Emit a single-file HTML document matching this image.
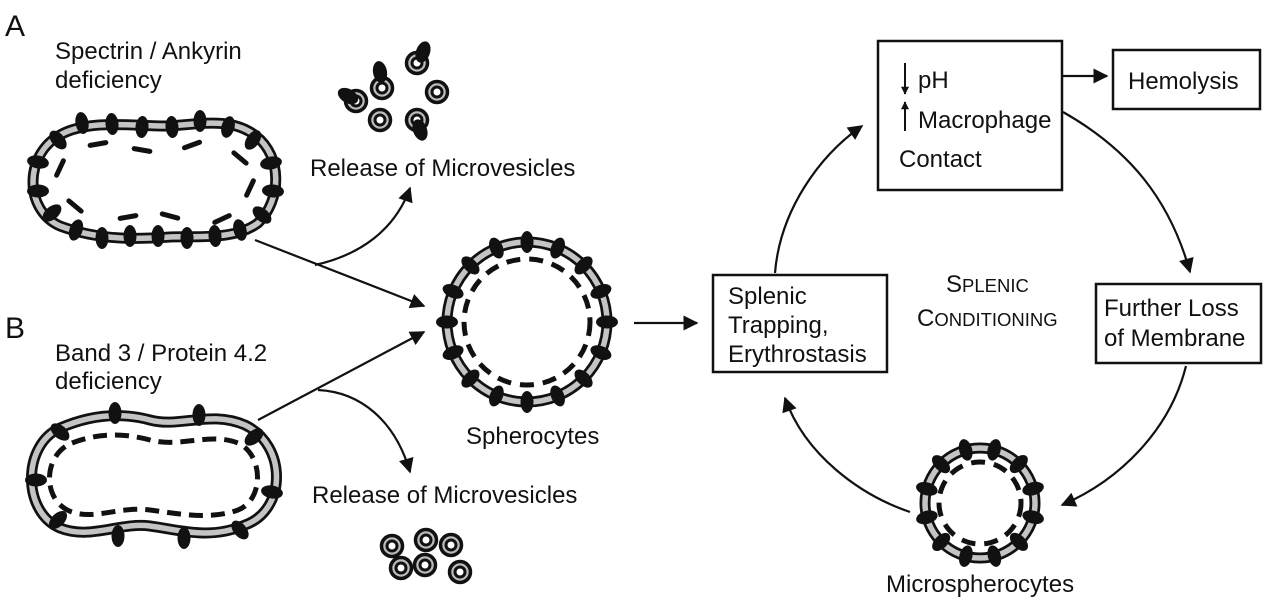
<!DOCTYPE html>
<html><head><meta charset="utf-8"><style>
html,body{margin:0;padding:0;background:#fff;}
svg{display:block}
text{font-family:"Liberation Sans",Arial,sans-serif;fill:#111}
</style></head><body>
<svg id="s" width="1280" height="606" viewBox="0 0 1280 606" xmlns="http://www.w3.org/2000/svg">
<defs>
<marker id="ah" viewBox="0 0 10 10" refX="9" refY="5" markerWidth="9" markerHeight="8" markerUnits="userSpaceOnUse" orient="auto"><path d="M0,0 L10,5 L0,10 Z" fill="#111"/></marker>
<marker id="ab" viewBox="0 0 10 10" refX="9" refY="5" markerWidth="20" markerHeight="15" orient="auto" markerUnits="userSpaceOnUse"><path d="M0,0 L10,5 L0,10 Z" fill="#111"/></marker>
</defs>
<g id="g"></g>
<text x="5" y="36" font-size="30">A</text>
<text x="5" y="338" font-size="30">B</text>
<text x="55" y="59" font-size="24">Spectrin / Ankyrin</text>
<text x="55" y="88" font-size="24">deficiency</text>
<text x="310" y="176" font-size="24">Release of Microvesicles</text>
<text x="55" y="361" font-size="24">Band 3 / Protein 4.2</text>
<text x="55" y="389" font-size="24">deficiency</text>
<text x="312" y="503" font-size="24">Release of Microvesicles</text>
<text x="466" y="444" font-size="24">Spherocytes</text>
<text x="886" y="592" font-size="24">Microspherocytes</text>
<rect x="713" y="275" width="174" height="97" fill="none" stroke="#111" stroke-width="2.5"/>
<text x="728" y="304" font-size="24">Splenic</text>
<text x="728" y="333" font-size="24">Trapping,</text>
<text x="728" y="362" font-size="24">Erythrostasis</text>
<rect x="878" y="41" width="184" height="149" fill="none" stroke="#111" stroke-width="2.5"/>
<text x="918" y="88" font-size="24">pH</text>
<text x="918" y="128" font-size="24">Macrophage</text>
<text x="899" y="167" font-size="24">Contact</text>
<line x1="905" y1="63" x2="905" y2="94" stroke="#111" stroke-width="2" marker-end="url(#ah)"/>
<line x1="905" y1="131" x2="905" y2="102" stroke="#111" stroke-width="2" marker-end="url(#ah)"/>
<rect x="1113" y="50" width="147" height="59" fill="none" stroke="#111" stroke-width="2.5"/>
<text x="1128" y="89" font-size="24">Hemolysis</text>
<rect x="1096" y="284" width="165" height="79" fill="none" stroke="#111" stroke-width="2.5"/>
<text x="1104" y="316" font-size="24">Further Loss</text>
<text x="1104" y="346" font-size="24">of Membrane</text>
<text x="946" y="292" font-size="24">S<tspan font-size="18.5">PLENIC</tspan></text>
<text x="917" y="326" font-size="24">C<tspan font-size="18.5">ONDITIONING</tspan></text>
<g fill="none" stroke="#111" stroke-width="2.2" marker-end="url(#ab)">
<line x1="1062" y1="76" x2="1107" y2="76"/>
<line x1="634" y1="323" x2="697" y2="323"/>
<line x1="255" y1="240" x2="424" y2="306"/>
<line x1="258" y1="420" x2="424" y2="332"/>
<path d="M315,265 C360,255 395,230 410,188"/>
<path d="M318,390 C360,392 395,420 410,472"/>
<path d="M775,273 C780,210 820,155 862,126"/>
<path d="M1063,112 C1130,150 1170,200 1190,272"/>
<path d="M1186,366 C1170,430 1120,480 1062,505"/>
<path d="M910,512 C860,495 805,455 785,398"/>
</g>
</svg>
<script>
const NS="http://www.w3.org/2000/svg",g=document.getElementById('g');
function el(t,a){const e=document.createElementNS(NS,t);for(const k in a)e.setAttribute(k,a[k]);g.appendChild(e);return e;}
function memb(d){el('path',{d,fill:'none',stroke:'#111','stroke-width':11});el('path',{d,fill:'none',stroke:'#c4c4c4','stroke-width':5.5});}
function prot(x,y,ang,rx,ry){el('ellipse',{cx:x,cy:y,rx:rx||6.5,ry:ry||11,fill:'#111',transform:`rotate(${ang} ${x} ${y})`});}
function dash(x,y,ang){el('line',{x1:x-8,y1:y,x2:x+8,y2:y,stroke:'#111','stroke-width':5,'stroke-linecap':'round',transform:`rotate(${ang} ${x} ${y})`});}
memb("M60,135 C90,118 140,127 170,126 C200,124 232,117 256,136 C282,156 282,200 258,223 C235,240 200,236 170,237 C140,239 100,241 60,226 C24,210 24,155 60,135 Z");
[[82,123,-10],[112,124,-5],[142,127,5],[172,127,-5],[200,121,0],[228,127,15],[253,140,35],[271,163,80],[273,191,95],[262,215,130],[240,230,165],[215,236,175],[187,238,180],[158,236,180],[130,236,180],[102,238,180],[76,230,200],[52,213,230],[38,191,270],[38,162,280],[58,140,320]].forEach(p=>prot(...p));
[[98,144,-10],[142,150,10],[192,145,-20],[240,158,40],[250,188,-65],[222,219,-25],[170,216,15],[128,217,-10],[75,206,40],[60,168,-65]].forEach(p=>dash(...p));
memb("M60,428 C90,415 120,412 150,420 C180,428 210,410 245,425 C287,445 287,510 245,525 C210,540 180,530 150,526 C120,522 90,540 60,528 C22,512 22,445 60,428 Z");
el('path',{d:"M72,443 C95,434 120,432 150,440 C180,448 210,432 238,443 C264,455 264,500 238,510 C210,520 180,514 150,510 C120,506 95,520 72,512 C42,502 42,455 72,443 Z",fill:'none',stroke:'#111','stroke-width':5,'stroke-dasharray':'14 8'});
[[115,413,0],[199,415,0],[254,437,50],[272,492,100],[240,530,140],[184,538,180],[118,536,180],[58,520,225],[36,480,270],[60,432,310]].forEach(p=>prot(...p));
function round(cx,cy,r,rd,n,off){memb(`M${cx-r},${cy} a${r},${r} 0 1,0 ${2*r},0 a${r},${r} 0 1,0 ${-2*r},0`);
el('circle',{cx,cy,r:rd,fill:'none',stroke:'#111','stroke-width':5,'stroke-dasharray':'14 9'});
for(let i=0;i<n;i++){const a=(i/n)*2*Math.PI+off;prot(cx+r*Math.sin(a),cy-r*Math.cos(a),a*180/Math.PI);}}
round(527,322,80,63,16,0);
round(980,503,55,41,12,0.26);
function ves(x,y){el('circle',{cx:x,cy:y,r:10.5,fill:'#bbb',stroke:'#111','stroke-width':3.5});el('circle',{cx:x,cy:y,r:5,fill:'#fff',stroke:'#111','stroke-width':3});}
[[392,546],[426,540],[451,545],[401,568],[425,565],[460,572],[417,63],[437,92],[382,88],[356,101],[380,120],[417,120]].forEach(p=>ves(...p));
[[423,52,20],[380,72,-10],[348,96,-60],[420,130,-20]].forEach(p=>prot(p[0],p[1],p[2],7,11));
</script>
</body></html>
